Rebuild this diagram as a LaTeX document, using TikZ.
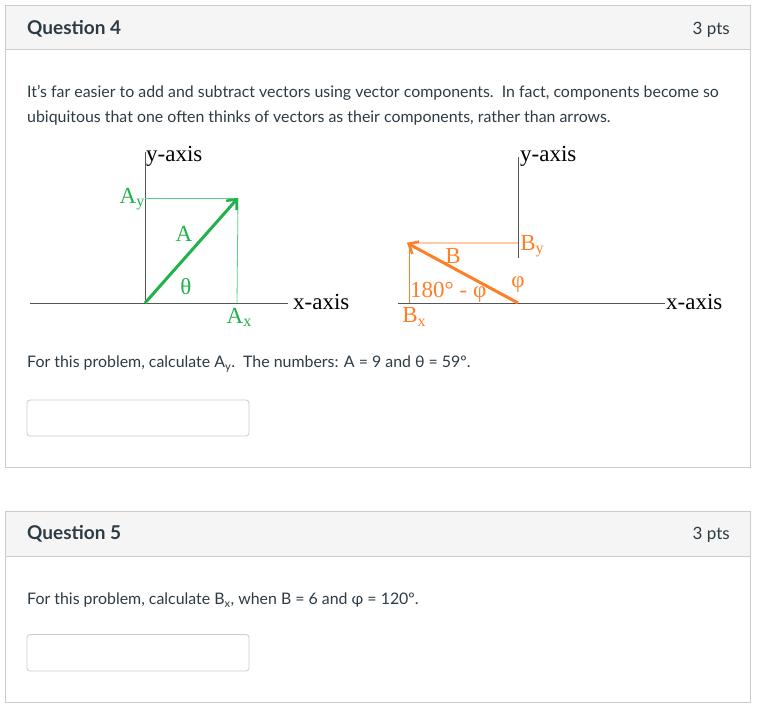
\documentclass[tikz,border=0pt]{standalone}
\usepackage{fontspec}
\setmainfont{Lato}
\newfontfamily\diagfont{Liberation Serif}
\usetikzlibrary{arrows.meta}
\definecolor{hdr}{HTML}{F5F5F5}
\definecolor{bord}{HTML}{C7CDD1}
\definecolor{txt}{HTML}{2D3B45}
\definecolor{grn}{HTML}{22B14C}
\definecolor{lgrn}{HTML}{5CD27E}
\definecolor{org}{HTML}{FF7F27}
\definecolor{lorg}{HTML}{FFCBA6}
\definecolor{axis}{HTML}{555555}
\begin{document}
\begin{tikzpicture}[x=1pt,y=-1pt,
  panel/.style={draw=bord,line width=1pt},
  header/.style={fill=hdr,draw=bord,line width=1pt},
  title/.style={anchor=west,inner sep=0pt,font=\fontsize{19}{22}\selectfont\bfseries,text=txt},
  pts/.style={anchor=east,inner sep=0pt,font=\fontsize{17}{20}\selectfont,text=txt},
  body/.style={anchor=west,inner sep=0pt,font=\fontsize{15.9}{19}\selectfont,text=txt},
  inbox/.style={draw=bord,rounded corners=3pt,line width=0.8pt},
  axl/.style={draw=axis,line width=0.8pt},
  dlab/.style={inner sep=0pt,font=\diagfont\fontsize{23}{25}\selectfont,text=black},
  glab/.style={inner sep=0pt,font=\diagfont\fontsize{23}{25}\selectfont,text=grn},
  olab/.style={inner sep=0pt,font=\diagfont\fontsize{23}{25}\selectfont,text=org},
  vecg/.style={draw=grn,line width=3pt,-{Straight Barb[length=8pt,width=14pt,line width=2.5pt]}},
  veco/.style={draw=org,line width=3pt,-{Straight Barb[length=8pt,width=14pt,line width=2.5pt]}},
  compg/.style={draw=lgrn,line width=0.8pt},
  compo/.style={draw=org,line width=0.8pt},
  compol/.style={draw=lorg,line width=1.2pt}]
\useasboundingbox (0,0) rectangle (757,722);
% ---------- Question 4 panel
\fill[white] (0,0) rectangle (757,722);
\draw[header] (5.5,5.5) rectangle (750.5,50);
\draw[panel] (5.5,5.5) rectangle (750.5,467);
\node[title] (q4) at (27,29) {Question 4};
\node[pts] (p4) at (730,30) {3 pts};
\node[body] (t1) at (27,93) {It's far easier to add and subtract vectors using vector components.\ \ In fact, components become so};
\node[body] (t2) at (27,118) {ubiquitous that one often thinks of vectors as their components, rather than arrows.};
% left diagram
\coordinate (o1) at (145,303);
\coordinate (yt1) at (145,152);
\coordinate (xl1) at (30,303);
\coordinate (xr1) at (288,303);
\coordinate (tipA) at (238,198);
\coordinate (ay) at (145,198);
\coordinate (ax) at (237,303);
\draw[axl] (yt1) -- (o1);
\draw[axl] (xl1) -- (xr1);
\draw[compg] (ay) -- (tipA);
\draw[compg] (tipA) -- (ax);
\draw[vecg] (o1) -- (tipA);
\node[dlab,anchor=west] (ylab1) at (146,156) {y-axis};
\node[dlab,anchor=west] (xlab1) at (293,302) {x-axis};
\node[glab] (lAy) at (132,199) {A\raisebox{-0.3ex}{\fontsize{16}{18}\selectfont y}};
\node[glab] (lA) at (184,234) {A};
\node[glab] (lth) at (186,287) {θ};
\node[glab] (lAx) at (239,317) {A\raisebox{-0.3ex}{\fontsize{16}{18}\selectfont x}};
% right diagram
\coordinate (o2) at (518,303);
\coordinate (yt2) at (518,157);
\coordinate (yb2) at (518,258);
\coordinate (xl2) at (398,303);
\coordinate (xr2) at (665,303);
\coordinate (tipB) at (407,243);
\coordinate (by) at (518,243);
\coordinate (bxt) at (409,245);
\coordinate (bx) at (409,303);
\draw[axl] (yt2) -- (yb2);
\draw[axl] (xl2) -- (xr2);
\draw[compol] (by) -- (tipB);
\draw[compo] (bxt) -- (bx);
\draw[veco] (o2) -- (tipB);
\node[dlab,anchor=west] (ylab2) at (520,156) {y-axis};
\node[dlab,anchor=west] (xlab2) at (666,302) {x-axis};
\node[olab] (lBy) at (532,246) {B\raisebox{-0.3ex}{\fontsize{16}{18}\selectfont y}};
\node[olab] (lB) at (453,256) {B};
\node[olab] (lphi) at (518,285) {φ};
\node[olab,anchor=west] (lang) at (410,292) {180° - φ};
\node[olab] (lBx) at (414,317) {B\raisebox{-0.3ex}{\fontsize{16}{18}\selectfont x}};
% question text and input
\node[body] (t3) at (27,364) {For this problem, calculate A\textsubscript{y}.\ \ The numbers: A = 9 and θ = 59º.};
\draw[inbox] (27,400) rectangle (249,436);
% ---------- Question 5 panel
\draw[header] (5.5,511.5) rectangle (750.5,556);
\draw[panel] (5.5,511.5) rectangle (750.5,702.5);
\node[title] (q5) at (27,534) {Question 5};
\node[pts] (p5) at (730,535) {3 pts};
\node[body] (t4) at (27,600) {For this problem, calculate B\textsubscript{x}, when B = 6 and φ = 120º.};
\draw[inbox] (27,634.5) rectangle (249,671);
\end{tikzpicture}
\end{document}
